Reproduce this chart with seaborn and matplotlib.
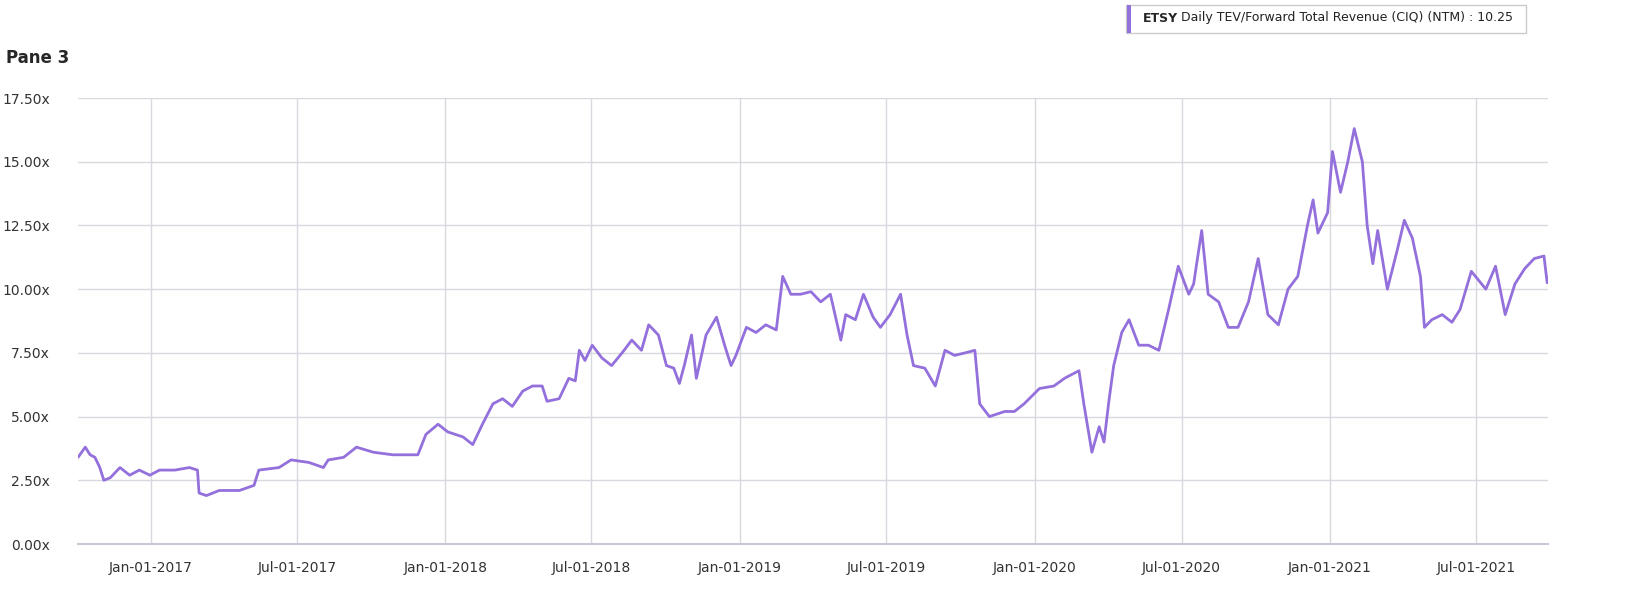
import pandas as pd
import seaborn as sns
import matplotlib.pyplot as plt
import matplotlib.dates as mdates
from matplotlib.patches import Rectangle
from matplotlib.ticker import FuncFormatter

dates = [
    "2016-10-03", "2016-10-12", "2016-10-18", "2016-10-24", "2016-10-30", "2016-11-04",
    "2016-11-12", "2016-11-24", "2016-12-06", "2016-12-18", "2016-12-31", "2017-01-12",
    "2017-01-31", "2017-02-18", "2017-02-28", "2017-03-02", "2017-03-11", "2017-03-27",
    "2017-04-21", "2017-05-09", "2017-05-15", "2017-06-09", "2017-06-24", "2017-07-16",
    "2017-08-03", "2017-08-09", "2017-08-28", "2017-09-13", "2017-10-04", "2017-10-28",
    "2017-11-16", "2017-11-28", "2017-12-08", "2017-12-23", "2018-01-04", "2018-01-23",
    "2018-02-04", "2018-02-16", "2018-03-01", "2018-03-13", "2018-03-25", "2018-04-07",
    "2018-04-19", "2018-05-01", "2018-05-07", "2018-05-22", "2018-06-03", "2018-06-11",
    "2018-06-16", "2018-06-23", "2018-07-02", "2018-07-14", "2018-07-26", "2018-08-08",
    "2018-08-20", "2018-09-01", "2018-09-10", "2018-09-22", "2018-10-02", "2018-10-11",
    "2018-10-18", "2018-10-24", "2018-11-02", "2018-11-08", "2018-11-20", "2018-12-03",
    "2018-12-13", "2018-12-21", "2018-12-27", "2019-01-09", "2019-01-21", "2019-02-02",
    "2019-02-15", "2019-02-23", "2019-03-05", "2019-03-17", "2019-03-30", "2019-04-11",
    "2019-04-23", "2019-05-06", "2019-05-12", "2019-05-24", "2019-06-03", "2019-06-15",
    "2019-06-24", "2019-07-06", "2019-07-19", "2019-07-27", "2019-08-04", "2019-08-18",
    "2019-08-31", "2019-09-12", "2019-09-24", "2019-10-07", "2019-10-19", "2019-10-25",
    "2019-11-06", "2019-11-25", "2019-12-07", "2019-12-19", "2020-01-07", "2020-01-25",
    "2020-02-07", "2020-02-25", "2020-03-02", "2020-03-12", "2020-03-21", "2020-03-27",
    "2020-04-02", "2020-04-08", "2020-04-18", "2020-04-27", "2020-05-09", "2020-05-21",
    "2020-06-03", "2020-06-15", "2020-06-27", "2020-07-10", "2020-07-16", "2020-07-26",
    "2020-08-03", "2020-08-16", "2020-08-28", "2020-09-09", "2020-09-22", "2020-10-04",
    "2020-10-16", "2020-10-29", "2020-11-10", "2020-11-22", "2020-12-04", "2020-12-11",
    "2020-12-17", "2020-12-29", "2021-01-04", "2021-01-14", "2021-01-23", "2021-01-31",
    "2021-02-10", "2021-02-16", "2021-02-23", "2021-03-01", "2021-03-13", "2021-03-25",
    "2021-04-03", "2021-04-13", "2021-04-23", "2021-04-28", "2021-05-07", "2021-05-20",
    "2021-06-01", "2021-06-11", "2021-06-25", "2021-07-13", "2021-07-25", "2021-08-06",
    "2021-08-18", "2021-08-30", "2021-09-11", "2021-09-23", "2021-09-27",
]
values = [
    3.4, 3.8, 3.5, 3.4, 3.0, 2.5, 2.6, 3.0, 2.7, 2.9, 2.7, 2.9,
    2.9, 3.0, 2.9, 2.0, 1.9, 2.1, 2.1, 2.3, 2.9, 3.0, 3.3, 3.2,
    3.0, 3.3, 3.4, 3.8, 3.6, 3.5, 3.5, 3.5, 4.3, 4.7, 4.4, 4.2,
    3.9, 4.7, 5.5, 5.7, 5.4, 6.0, 6.2, 6.2, 5.6, 5.7, 6.5, 6.4,
    7.6, 7.2, 7.8, 7.3, 7.0, 7.5, 8.0, 7.6, 8.6, 8.2, 7.0, 6.9,
    6.3, 7.0, 8.2, 6.5, 8.2, 8.9, 7.8, 7.0, 7.4, 8.5, 8.3, 8.6,
    8.4, 10.5, 9.8, 9.8, 9.9, 9.5, 9.8, 8.0, 9.0, 8.8, 9.8, 8.9,
    8.5, 9.0, 9.8, 8.2, 7.0, 6.9, 6.2, 7.6, 7.4, 7.5, 7.6, 5.5,
    5.0, 5.2, 5.2, 5.5, 6.1, 6.2, 6.5, 6.8, 5.5, 3.6, 4.6, 4.0,
    5.6, 7.0, 8.3, 8.8, 7.8, 7.8, 7.6, 9.2, 10.9, 9.8, 10.2, 12.3,
    9.8, 9.5, 8.5, 8.5, 9.5, 11.2, 9.0, 8.6, 10.0, 10.5, 12.5, 13.5,
    12.2, 13.0, 15.4, 13.8, 15.0, 16.3, 15.0, 12.5, 11.0, 12.3, 10.0, 11.5,
    12.7, 12.0, 10.5, 8.5, 8.8, 9.0, 8.7, 9.2, 10.7, 10.0, 10.9, 9.0,
    10.2, 10.8, 11.2, 11.3, 10.25,
]
xticks = ["2017-01-01", "2017-07-01", "2018-01-01", "2018-07-01", "2019-01-01",
          "2019-07-01", "2020-01-01", "2020-07-01", "2021-01-01", "2021-07-01"]
yticks = [0, 2.5, 5, 7.5, 10, 12.5, 15, 17.5]

df = pd.DataFrame({"date": pd.to_datetime(dates), "value": values})
color = "#9370DB"

sns.set_style("white")
plt.rcParams["font.family"] = ["DejaVu Sans"]
fig = plt.figure(figsize=(16.27, 6.15), dpi=100)
ax = fig.add_axes([78 / 1627, 1 - 544 / 615, (1548 - 78) / 1627, (544 - 98) / 615])
sns.lineplot(data=df, x="date", y="value", ax=ax, color=color, linewidth=2)

ax.set_xlim(pd.Timestamp("2016-10-03"), pd.Timestamp("2021-09-28"))
ax.set_ylim(0, 17.5)
ax.set_xticks(pd.to_datetime(xticks))
ax.xaxis.set_major_formatter(mdates.DateFormatter("%b-%d-%Y"))
ax.set_yticks(yticks)
ax.yaxis.set_major_formatter(FuncFormatter(lambda v, p: f"{v:.2f}x"))
ax.grid(True, color="#d8d8e0", linewidth=1)
ax.tick_params(axis="x", length=0, labelsize=10, colors="#333333", pad=12)
ax.tick_params(axis="y", length=0, labelsize=10, colors="#333333", pad=20)
ax.set_xlabel("")
ax.set_ylabel("")
for s in ["top", "right", "left"]:
    ax.spines[s].set_visible(False)
ax.spines["bottom"].set_color("#c8c8d8")
ax.spines["bottom"].set_linewidth(1.5)

fig.text(6 / 1627, 1 - 58 / 615, "Pane 3", fontsize=12, fontweight="bold", va="center")

# legend box
fig.patches.append(Rectangle((1126 / 1627, 1 - 33 / 615), 400 / 1627, 28 / 615,
                             transform=fig.transFigure, facecolor="white",
                             edgecolor="#cccccc", linewidth=1))
fig.patches.append(Rectangle((1127 / 1627, 1 - 33 / 615), 4 / 1627, 28 / 615,
                             transform=fig.transFigure, facecolor=color, edgecolor="none"))
fig.text(1143 / 1627, 1 - 18 / 615, "ETSY", fontsize=9, fontweight="bold", va="center")
fig.text(1181 / 1627, 1 - 18 / 615, "Daily TEV/Forward Total Revenue (CIQ) (NTM) : 10.25",
         fontsize=9, va="center", color="#222222")

fig.savefig("out.png", dpi=100)
